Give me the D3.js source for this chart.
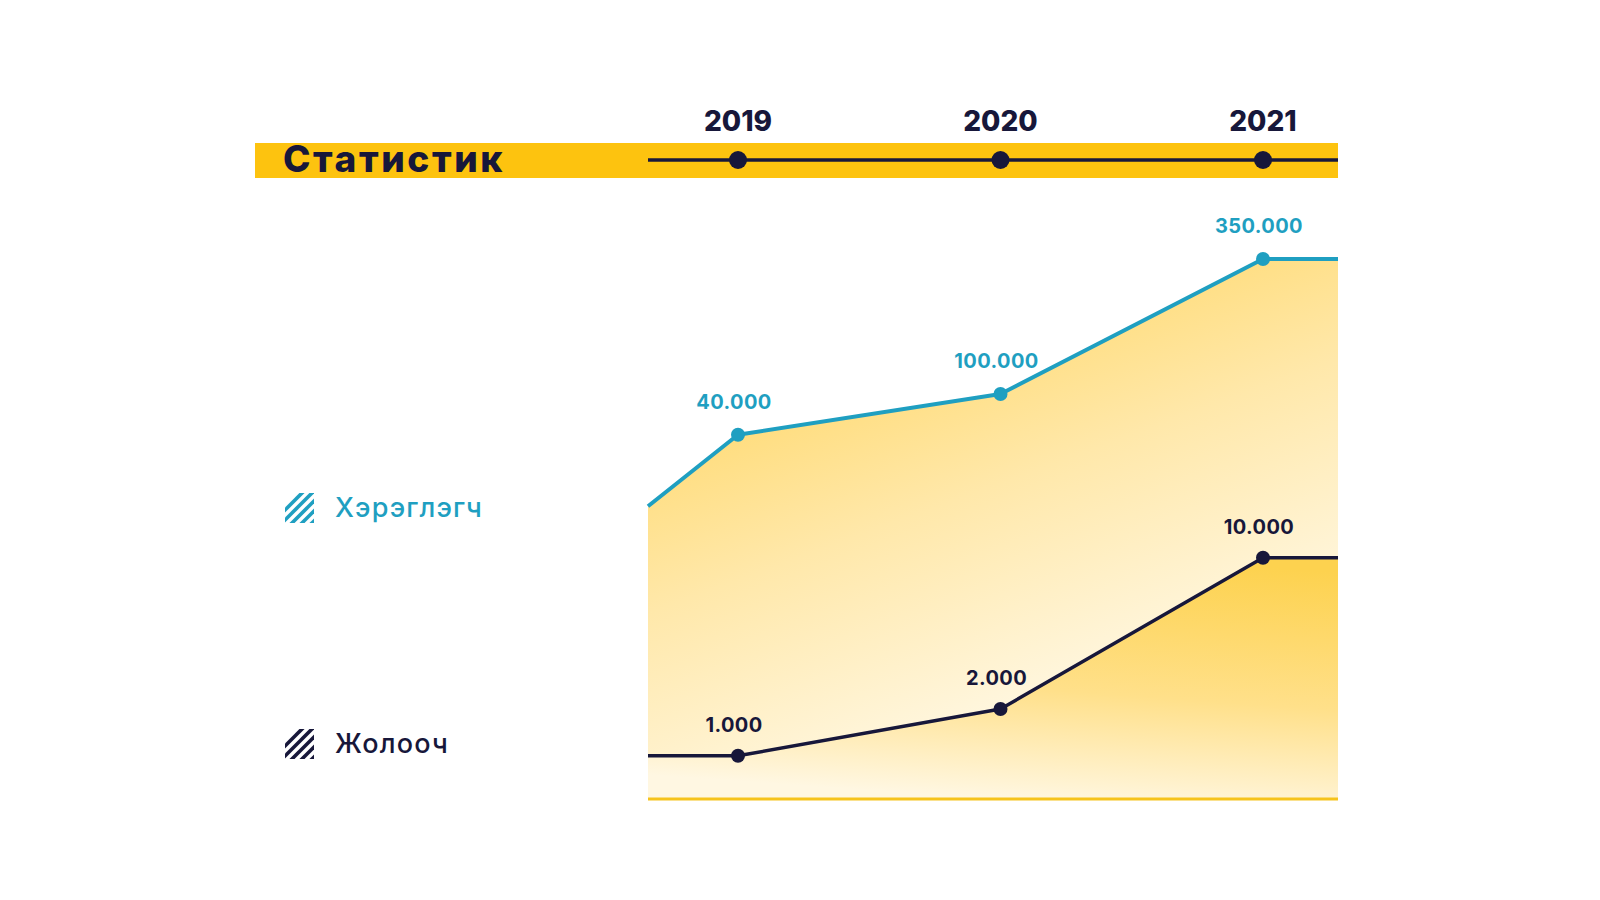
<!DOCTYPE html>
<html>
<head>
<meta charset="utf-8">
<script src="https://cdn.jsdelivr.net/npm/d3@7"></script>
<style>
  html, body { margin: 0; padding: 0; background: #ffffff; }
  svg { display: block; font-family: Inter, "Noto Sans", sans-serif; }
</style>
</head>
<body>
<svg id="chart" width="1600" height="900"></svg>
<script>
// chart data
const years = ['2019', '2020', '2021'];
const seriesNames = ['Хэрэглэгч', 'Жолооч'];
const userValues = [40000, 100000, 350000];
const driverValues = [1000, 2000, 10000];
// plotted height of each point (0-100 of the drawing area): left edge, 2019, 2020, 2021, right edge
const userLevels = [48.8, 60.7, 67.5, 90.0, 90.0];
const driverLevels = [7.2, 7.2, 15.0, 40.2, 40.2];

const dark = '#17173a';
const blue = '#1f9fc1';
const band = '#fdc30f';

const plot = { left: 648, right: 1338, top: 199, bottom: 799 };

const svg = d3.select('#chart');
const defs = svg.append('defs');

// x: years inside the plot, edges at the plot borders
const x = d3.scalePoint()
  .domain(years)
  .range([738, 1263]);
const y = d3.scaleLinear()
  .domain([0, 100])
  .range([plot.bottom, plot.top]);

const xs = [plot.left, ...years.map(d => x(d)), plot.right];
const fmt = v => d3.format(',')(v).replace(/,/g, '.');

// gradients for the two areas
const g1 = defs.append('linearGradient')
  .attr('id', 'userFill')
  .attr('x1', 0.3).attr('y1', 0.1)
  .attr('x2', 0.7).attr('y2', 0.95);
g1.append('stop').attr('offset', 0).attr('stop-color', '#ffd86a');
g1.append('stop').attr('offset', 0.4).attr('stop-color', '#ffe8aa');
g1.append('stop').attr('offset', 1).attr('stop-color', '#fffdf7');

const g2 = defs.append('linearGradient')
  .attr('id', 'driverFill')
  .attr('x1', 0.7).attr('y1', 0)
  .attr('x2', 0.5).attr('y2', 1);
g2.append('stop').attr('offset', 0).attr('stop-color', '#fdd24f');
g2.append('stop').attr('offset', 0.55).attr('stop-color', '#ffe08a');
g2.append('stop').attr('offset', 1).attr('stop-color', '#fff7e2');

// header band
svg.append('rect')
  .attr('x', 255).attr('y', 143)
  .attr('width', plot.right - 255).attr('height', 35)
  .attr('fill', band);

svg.append('text')
  .attr('x', 283).attr('y', 172)
  .attr('font-size', 37)
  .attr('font-weight', 800)
  .attr('letter-spacing', 2.6)
  .attr('fill', dark)
  .text('Статистик');

svg.append('line')
  .attr('x1', plot.left).attr('x2', plot.right)
  .attr('y1', 160).attr('y2', 160)
  .attr('stroke', dark).attr('stroke-width', 3.5);

svg.selectAll('.year-dot')
  .data(years)
  .enter().append('circle')
  .attr('class', 'year-dot')
  .attr('cx', d => x(d)).attr('cy', 160)
  .attr('r', 9)
  .attr('fill', dark);

svg.selectAll('.year-label')
  .data(years)
  .enter().append('text')
  .attr('class', 'year-label')
  .attr('x', d => x(d)).attr('y', 131)
  .attr('text-anchor', 'middle')
  .attr('font-size', 28)
  .attr('font-weight', 800)
  .attr('fill', dark)
  .text(d => d);

// areas
const area = d3.area()
  .x((d, i) => xs[i])
  .y0(plot.bottom)
  .y1(d => y(d));
const line = d3.line()
  .x((d, i) => xs[i])
  .y(d => y(d));

svg.append('path')
  .attr('d', area(userLevels))
  .attr('fill', 'url(#userFill)');
svg.append('path')
  .attr('d', area(driverLevels))
  .attr('fill', 'url(#driverFill)');

// bottom rule
svg.append('line')
  .attr('x1', plot.left).attr('x2', plot.right)
  .attr('y1', plot.bottom).attr('y2', plot.bottom)
  .attr('stroke', '#f6c31c').attr('stroke-width', 3);

const series = [
  { name: seriesNames[0], values: userValues, levels: userLevels, color: blue, width: 4, labelDy: -26 },
  { name: seriesNames[1], values: driverValues, levels: driverLevels, color: dark, width: 3.5, labelDy: -24 }
];

series.forEach(s => {
  svg.append('path')
    .attr('d', line(s.levels))
    .attr('fill', 'none')
    .attr('stroke', s.color)
    .attr('stroke-width', s.width)
    .attr('stroke-linejoin', 'round');

  const pts = s.values.map((v, i) => ({ v, year: years[i], level: s.levels[i + 1] }));

  svg.selectAll(null)
    .data(pts)
    .enter().append('circle')
    .attr('cx', d => x(d.year))
    .attr('cy', d => y(d.level))
    .attr('r', 7)
    .attr('fill', s.color);

  svg.selectAll(null)
    .data(pts)
    .enter().append('text')
    .attr('x', d => x(d.year) - 4)
    .attr('y', d => y(d.level) + s.labelDy)
    .attr('text-anchor', 'middle')
    .attr('font-size', 20)
    .attr('font-weight', 700)
    .attr('letter-spacing', 0.4)
    .attr('fill', s.color)
    .text(d => fmt(d.v));
});

// legend with hatched squares
const legendY = [508, 744];
series.forEach((s, i) => {
  const cy = legendY[i];
  const id = 'hatchClip' + i;
  defs.append('clipPath').attr('id', id)
    .append('rect')
    .attr('x', 285).attr('y', cy - 15)
    .attr('width', 29).attr('height', 30);

  const lg = svg.append('g').attr('clip-path', `url(#${id})`);
  d3.range(-1, 5).forEach(k => {
    const x0 = 285 + k * 10;
    lg.append('line')
      .attr('x1', x0 - 6).attr('y1', cy + 18)
      .attr('x2', x0 + 30).attr('y2', cy - 18)
      .attr('stroke', s.color)
      .attr('stroke-width', 3.6);
  });

  svg.append('text')
    .attr('x', 335).attr('y', cy + 9)
    .attr('font-size', 27)
    .attr('font-weight', 500)
    .attr('letter-spacing', 1.2)
    .attr('fill', s.color)
    .text(s.name);
});
</script>
</body>
</html>
